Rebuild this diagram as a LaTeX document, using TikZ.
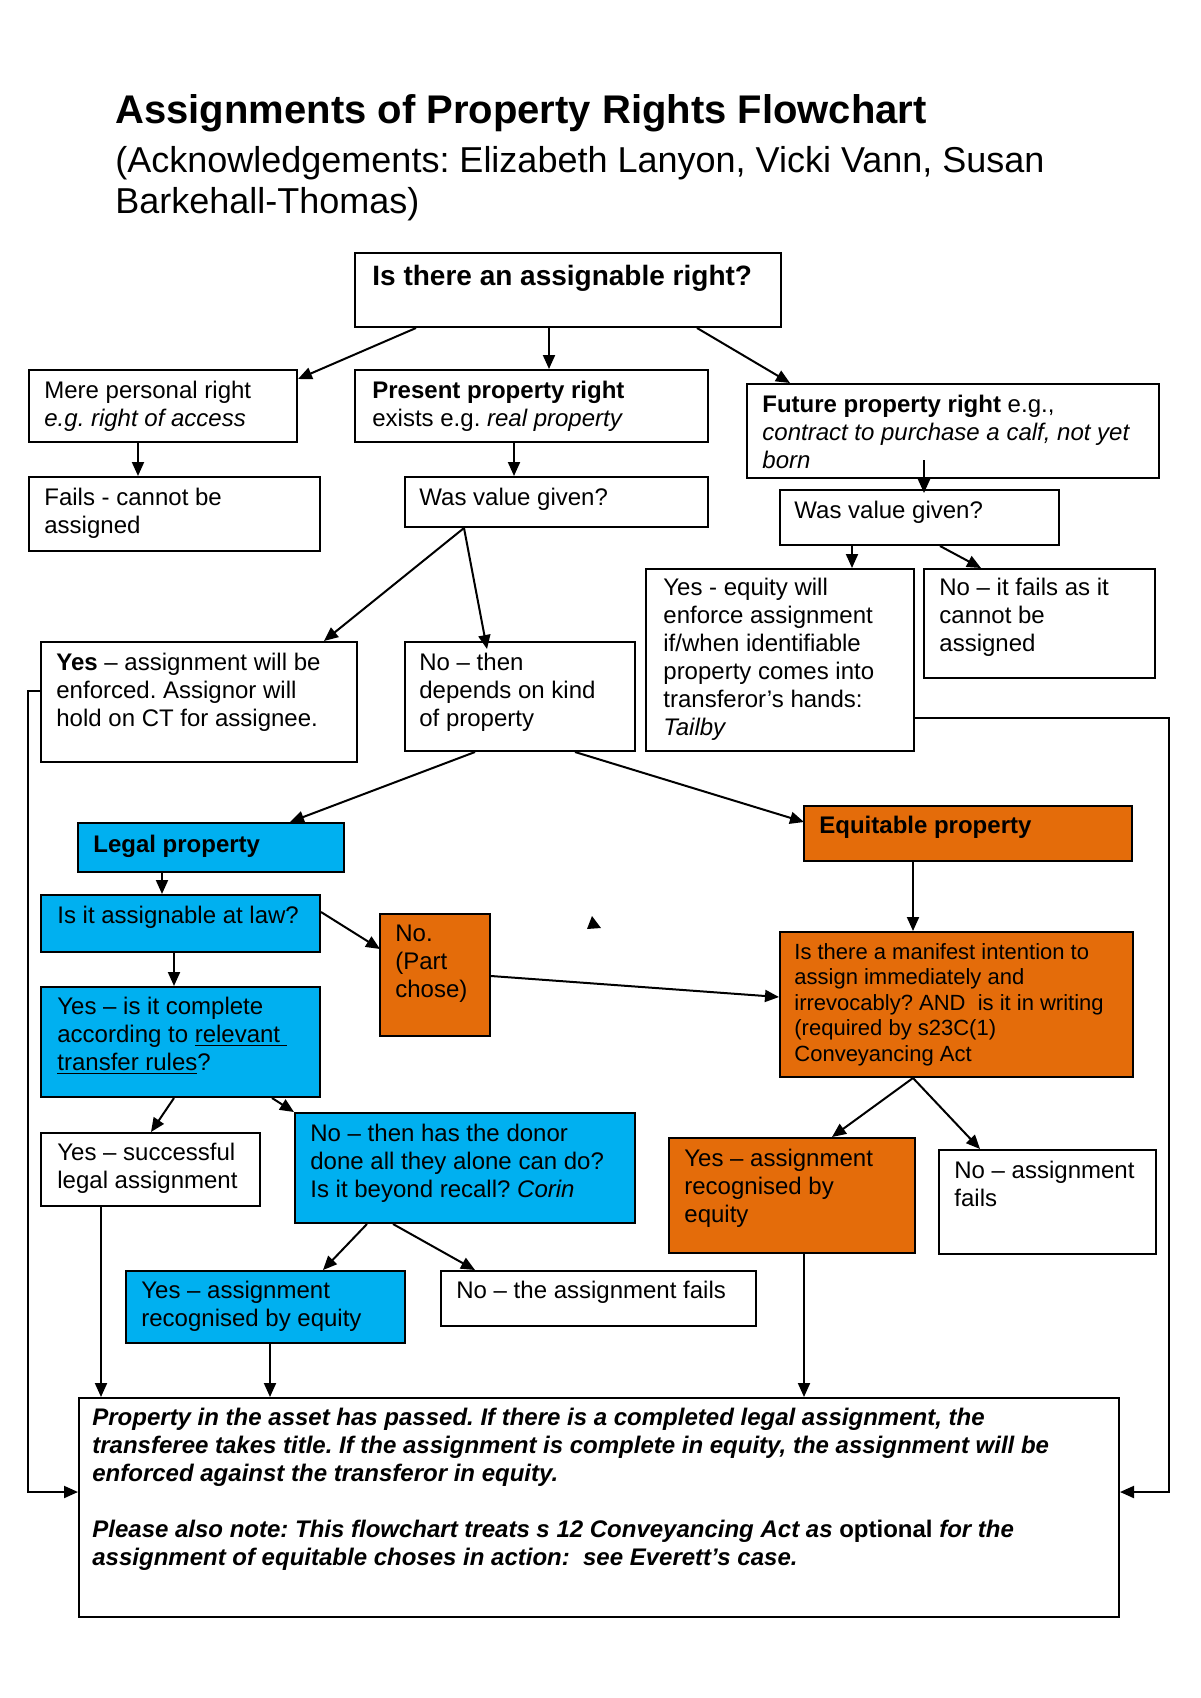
\documentclass[tikz,border=0pt]{standalone}
\usepackage{fontspec}
\setmainfont{Liberation Sans}
\usetikzlibrary{arrows.meta, calc, fit}
\definecolor{skyb}{HTML}{00B0F0}
\definecolor{rust}{HTML}{E46C0A}
\frenchspacing

\begin{document}
\begin{tikzpicture}[x=0.5pt, y=-0.5pt,
    box/.style={draw, line width=1pt, inner sep=0pt},
    txt/.style={anchor=north west, align=left, inner sep=0pt, font=\fontsize{12}{14}\selectfont},
    arr/.style={line width=1pt, -{Triangle[length=7pt, width=6pt]}}]
    \useasboundingbox (0, 0) rectangle (1200, 1698);

    \node[txt, font=\fontsize{20}{21.5}\selectfont\bfseries] (title) at (115, 94) {Assignments of Property Rights Flowchart};
    \node[txt, font=\fontsize{18}{20.5}\selectfont] (ack) at (115, 146) {(Acknowledgements: Elizabeth Lanyon, Vicki Vann, Susan\\Barkehall-Thomas)};

    % first row
    \node[box, fit={(355, 253) (781, 327)}] (top) {};
    \node[txt, font=\fontsize{14}{16}\selectfont\bfseries] (top-t) at ($(top.north west) + (18, 13)$) {Is there an assignable right?};

    \node[box, fit={(29, 370) (297, 442)}] (mere) {};
    \node[txt] (mere-t) at ($(mere.north west) + (16, 12)$) {Mere personal right\\\textit{e.g. right of access}};
    \node[box, fit={(29, 477) (320, 551)}] (fails) {};
    \node[txt] (fails-t) at ($(fails.north west) + (16, 12)$) {Fails - cannot be\\assigned};

    \node[box, fit={(355, 370) (708, 442)}] (present) {};
    \node[txt] (present-t) at ($(present.north west) + (18, 12)$) {\textbf{Present property right}\\exists e.g. \textit{real property}};
    \node[box, fit={(405, 477) (708, 527)}] (valP) {};
    \node[txt] (valP-t) at ($(valP.north west) + (15, 12)$) {Was value given?};

    \node[box, fit={(747, 384) (1159, 478)}] (future) {};
    \node[txt] (future-t) at ($(future.north west) + (16, 12)$) {\textbf{Future property right} e.g.,\\\textit{contract to purchase a calf, not yet}\\\textit{born}};
    \node[box, fit={(780, 490) (1059, 545)}] (valF) {};
    \node[txt] (valF-t) at ($(valF.north west) + (15, 12)$) {Was value given?};

    \node[box, fit={(646, 569) (914, 751)}] (yesF) {};
    \node[txt] (yesF-t) at ($(yesF.north west) + (18, 10)$) {Yes - equity will\\enforce assignment\\if/when identifiable\\property comes into\\transferor's hands:\\\textit{Tailby}};
    \node[box, fit={(924, 569) (1155, 678)}] (noF) {};
    \node[txt] (noF-t) at ($(noF.north west) + (16, 10)$) {No – it fails as it\\cannot be\\assigned};

    \node[box, fit={(41, 642) (357, 762)}] (yesP) {};
    \node[txt] (yesP-t) at ($(yesP.north west) + (16, 12)$) {\textbf{Yes} – assignment will be\\enforced. Assignor will\\hold on CT for assignee.};
    \node[box, fit={(405, 642) (635, 751)}] (noP) {};
    \node[txt] (noP-t) at ($(noP.north west) + (15, 12)$) {No – then\\depends on kind\\of property};

    % legal side
    \node[box, fill=skyb, fit={(78, 823) (344, 872)}] (legal) {};
    \node[txt] (legal-t) at ($(legal.north west) + (16, 13)$) {\textbf{Legal property}};
    \node[box, fill=skyb, fit={(41, 895) (320, 952)}] (assign) {};
    \node[txt] (assign-t) at ($(assign.north west) + (17, 12)$) {Is it assignable at law?};
    \node[box, fill=rust, fit={(380, 914) (490, 1036)}] (part) {};
    \node[txt] (part-t) at ($(part.north west) + (16, 12)$) {No.\\(Part\\chose)};
    \node[box, fill=skyb, fit={(41, 987) (320, 1097)}] (complete) {};
    \node[txt] (complete-t) at ($(complete.north west) + (17, 11)$) {Yes – is it complete\\according to \underline{relevant\ }\\\underline{transfer rules}?};
    \node[box, fit={(41, 1133) (260, 1206)}] (succ) {};
    \node[txt] (succ-t) at ($(succ.north west) + (17, 11)$) {Yes – successful\\legal assignment};
    \node[box, fill=skyb, fit={(295, 1113) (635, 1223)}] (donor) {};
    \node[txt] (donor-t) at ($(donor.north west) + (16, 12)$) {No – then has the donor\\done all they alone can do?\\Is it beyond recall? \textit{Corin}};
    \node[box, fill=skyb, fit={(126, 1271) (405, 1343)}] (yesEB) {};
    \node[txt] (yesEB-t) at ($(yesEB.north west) + (16, 11)$) {Yes – assignment\\recognised by equity};
    \node[box, fit={(441, 1271) (756, 1326)}] (noEB) {};
    \node[txt] (noEB-t) at ($(noEB.north west) + (16, 11)$) {No – the assignment fails};

    % equitable side
    \node[box, fill=rust, fit={(804, 806) (1132, 861)}] (equit) {};
    \node[txt] (equit-t) at ($(equit.north west) + (16, 11)$) {\textbf{Equitable property}};
    \node[box, fill=rust, fit={(780, 932) (1133, 1077)}] (manifest) {};
    \node[txt, font=\fontsize{11}{12.75}\selectfont] (manifest-t) at ($(manifest.north west) + (15, 12)$) {Is there a manifest intention to\\assign immediately and\\irrevocably? AND\ \ is it in writing\\(required by s23C(1)\\Conveyancing Act};
    \node[box, fill=rust, fit={(669, 1138) (915, 1253)}] (yesEO) {};
    \node[txt] (yesEO-t) at ($(yesEO.north west) + (16, 12)$) {Yes – assignment\\recognised by\\equity};
    \node[box, fit={(939, 1150) (1156, 1254)}] (noEO) {};
    \node[txt] (noEO-t) at ($(noEO.north west) + (16, 12)$) {No – assignment\\fails};

    % result
    \node[box, fit={(79, 1398) (1119, 1617)}] (final) {};
    \node[txt, font=\fontsize{12}{14}\selectfont\bfseries\itshape] (final-t) at ($(final.north west) + (14, 11)$) {Property in the asset has passed. If there is a completed legal assignment, the\\transferee takes title. If the assignment is complete in equity, the assignment will be\\enforced against the transferor in equity.\\[14pt]Please also note: This flowchart treats s 12 Conveyancing Act as \textup{optional} for the\\assignment of equitable choses in action:\ \ see Everett’s case.};

    \fill (587, 929) -- (592, 916) -- (601, 928) -- cycle;

    % connectors
    \draw[arr] ($(top.south west) + (62, 0)$) -- ($(mere.north east) + (0, 10)$);
    \draw[arr] ($(top.south west) + (195, 0)$) -- ($(present.north west) + (195, 0)$);
    \draw[arr] ($(top.south west) + (343, 0)$) -- ($(future.north west) + (44, 0)$);
    \draw[arr] ($(mere.south west) + (110, 0)$) -- ($(fails.north west) + (110, 0)$);
    \draw[arr] ($(present.south west) + (160, 0)$) -- ($(valP.north west) + (110, 0)$);
    \draw[arr] ($(future.south west) + (178, -19)$) -- ($(valF.north west) + (145, 4)$);
    \draw[arr] ($(valF.south west) + (73, 0)$) -- ($(yesF.north west) + (207, 0)$);
    \draw[arr] ($(valF.south west) + (161, 0)$) -- ($(noF.north west) + (58, 0)$);
    \draw[arr] ($(valP.south west) + (60, 0)$) -- ($(yesP.north west) + (284, 0)$);
    \draw[arr] ($(valP.south west) + (60, 0)$) -- ($(noP.north west) + (83, 8)$);
    \draw[arr] ($(noP.south west) + (71, 0)$) -- ($(legal.north west) + (213, 0)$);
    \draw[arr] ($(noP.south west) + (171, 0)$) -- ($(equit.north west) + (1, 17)$);
    \draw[arr] ($(legal.south west) + (85, 0)$) -- ($(assign.north west) + (122, 0)$);
    \draw[arr] ($(assign.north east) + (0, 18)$) -- ($(part.north west) + (1, 36)$);
    \draw[arr] ($(part.north east) + (0, 63)$) -- ($(manifest.north west) + (0, 66)$);
    \draw[arr] ($(assign.south west) + (134, 0)$) -- ($(complete.north west) + (134, 0)$);
    \draw[arr] ($(complete.south west) + (134, 0)$) -- ($(succ.north west) + (111, 0)$);
    \draw[arr] ($(complete.south west) + (232, 0)$) -- (donor.north west);
    \draw[arr] ($(donor.south west) + (73, 0)$) -- ($(yesEB.north west) + (198, 0)$);
    \draw[arr] ($(donor.south west) + (99, 0)$) -- ($(noEB.north west) + (35, 0)$);
    \draw[arr] ($(equit.south west) + (110, 0)$) -- ($(manifest.north west) + (134, 0)$);
    \draw[arr] ($(manifest.south west) + (134, 0)$) -- ($(yesEO.north west) + (164, 0)$);
    \draw[arr] ($(manifest.south west) + (134, 0)$) -- ($(noEO.north west) + (42, 0)$);
    \draw[arr] ($(succ.south west) + (61, 0)$) -- ($(final.north west) + (23, 0)$);
    \draw[arr] ($(yesEB.south west) + (145, 0)$) -- ($(final.north west) + (192, 0)$);
    \draw[arr] ($(yesEO.south west) + (136, 0)$) -- ($(final.north west) + (726, 0)$);
    \draw[arr] ($(yesP.north west) + (0, 50)$) -- ++(-12, 0) |- ($(final.north west) + (0, 95)$);
    \draw[arr] ($(yesF.north east) + (0, 150)$) -- ++(254, 0) |- ($(final.north east) + (0, 95)$);
\end{tikzpicture}
\end{document}
